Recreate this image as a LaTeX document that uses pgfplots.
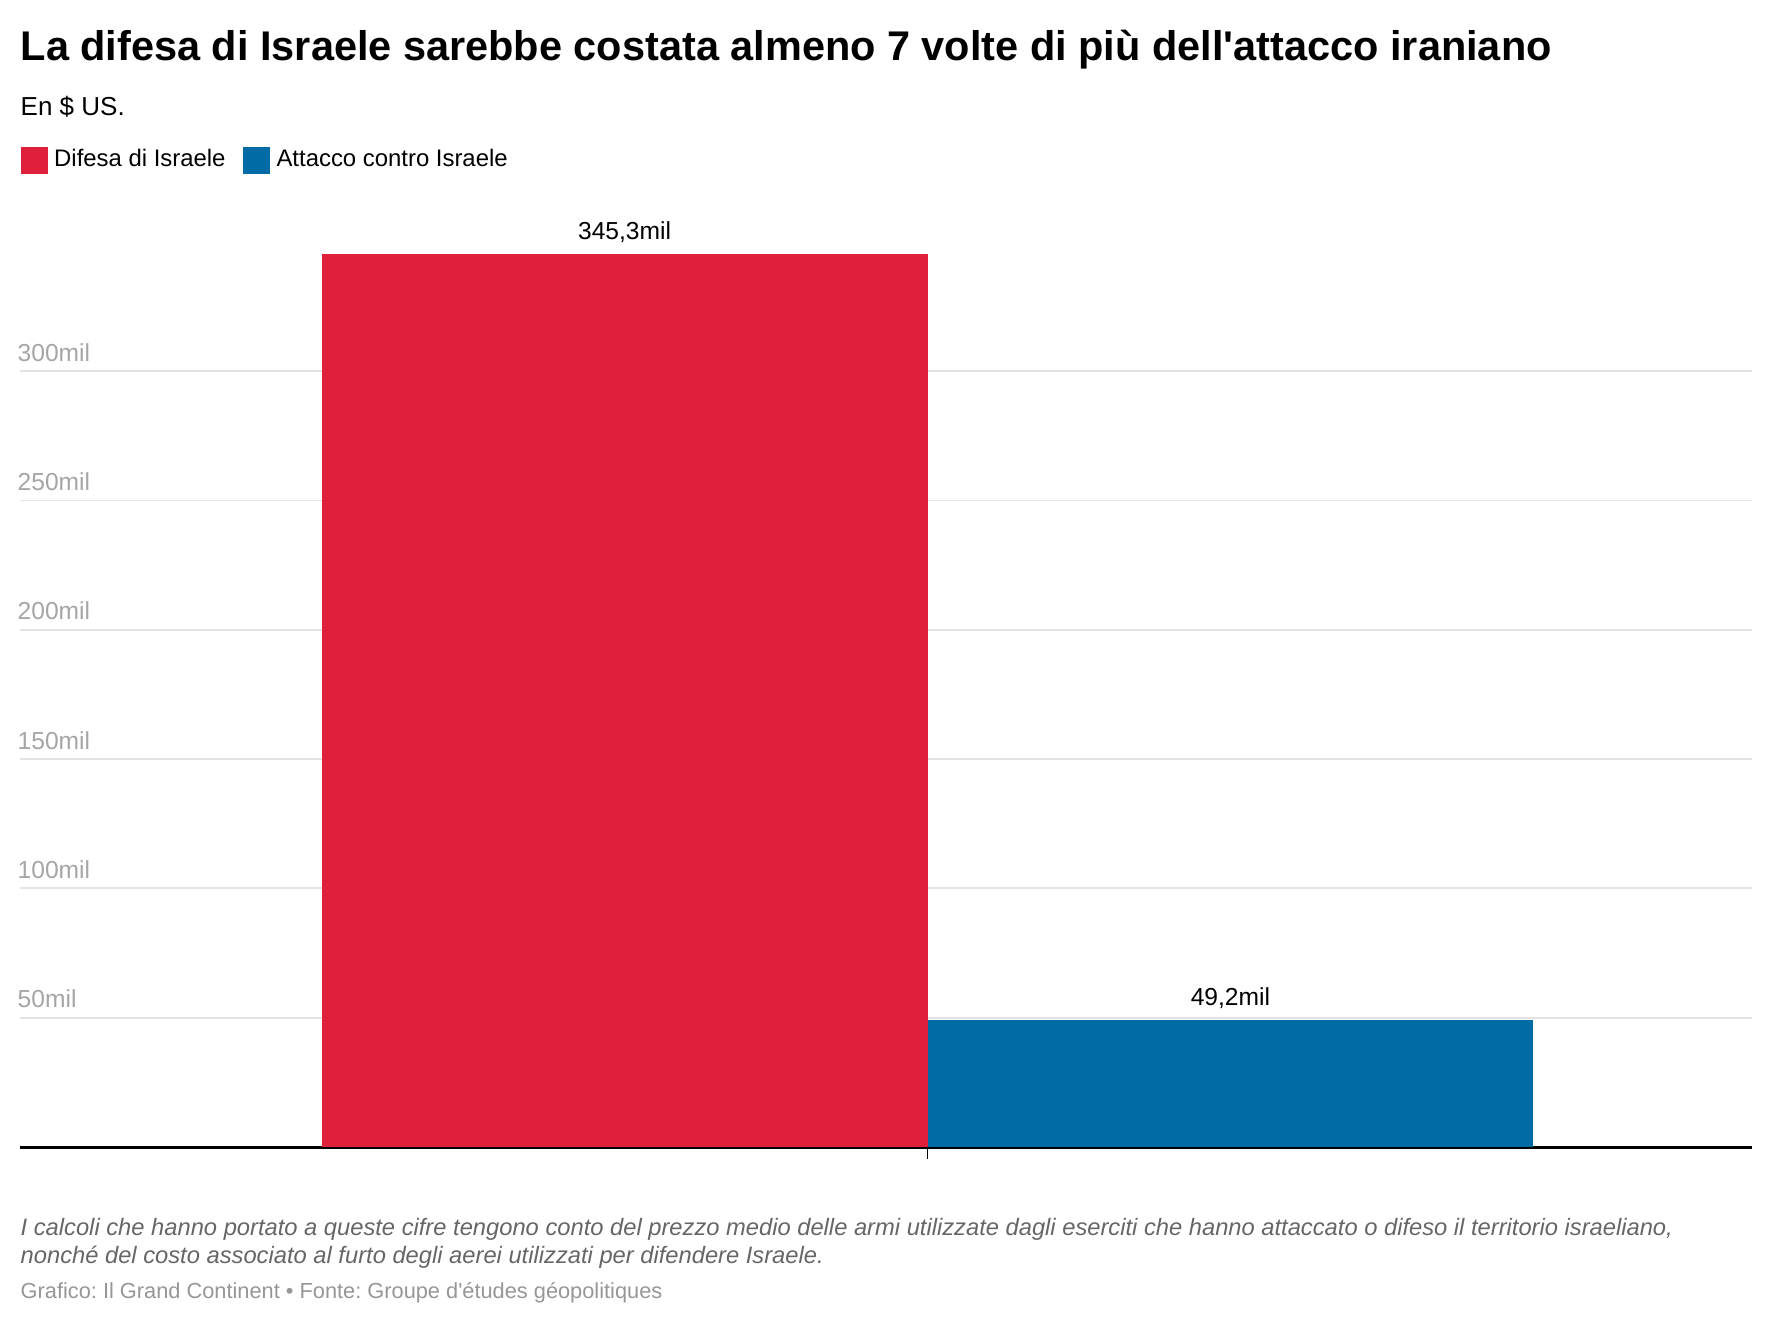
\documentclass[border=0pt]{standalone}
\usepackage{pgfplots}
\pgfplotsset{compat=1.18}
\usepackage{fontspec}
\setmainfont{Liberation Sans}[Ligatures=TeXOff]
\frenchspacing
\definecolor{difesa}{RGB}{222,32,60}
\definecolor{attacco}{RGB}{0,107,164}
\definecolor{gridgray}{RGB}{228,228,228}
\definecolor{ticklab}{RGB}{165,165,165}
\definecolor{notegray}{RGB}{102,102,102}
\definecolor{srcgray}{RGB}{150,150,150}

\begin{document}
\begin{tikzpicture}
  \path[use as bounding box] (0,0) rectangle (177.2mm,-132.8mm);
  % titles
  \node[anchor=base west, inner sep=0pt, font=\fontsize{11.8}{14}\selectfont\bfseries]
    at (2mm,-6.1mm) {La difesa di Israele sarebbe costata almeno 7 volte di più dell'attacco iraniano};
  \node[anchor=base west, inner sep=0pt, font=\fontsize{7.4}{9}\selectfont]
    at (2mm,-11.6mm) {En \$ US.};

  \begin{axis}[
    at={(2mm,-114.7mm)}, anchor=south west,
    scale only axis, width=173.2mm, height=93.1mm,
    xmin=-0.998, xmax=1.861, ymin=0, ymax=360,
    axis line style={draw=none},
    ymajorgrids,
    major grid style={gridgray, line width=0.55pt},
    ytick={50,100,150,200,250,300},
    yticklabels={50mil,100mil,150mil,200mil,250mil,300mil},
    ytick style={draw=none},
    yticklabel style={anchor=base west, inner sep=0pt, xshift=0.9mm, yshift=1mm,
      font=\fontsize{7}{8}\selectfont, text=ticklab},
    extra y ticks={0},
    extra y tick labels={},
    extra y tick style={grid=major, major grid style={black, line width=0.85pt}},
    xtick={0.5}, xticklabels={},
    xtick pos=lower, tick align=outside,
    x tick style={black, line width=0.4pt},
    major tick length=1.2mm,
    every axis plot/.append style={ybar, bar width=1, bar shift=0pt, draw=none},
    nodes near coords={\pgfmathprintnumber[assume math mode=true, use comma, fixed, fixed zerofill, precision=1]{\pgfplotspointmeta}mil},
    nodes near coords style={anchor=base, inner sep=0pt, yshift=1.45mm,
      font=\fontsize{7}{8}\selectfont, text=black},
    legend columns=2,
    legend style={at={(0,1.080)}, anchor=north west, draw=none, inner sep=0pt,
      font=\fontsize{6.8}{8}\selectfont, column sep=0pt,
      nodes={inner sep=0.65mm},
      /tikz/every even column/.append style={column sep=1.1mm}},
    legend cell align=left,
    legend image code/.code={\fill[#1] (0mm,-1.35mm) rectangle (2.7mm,1.35mm);},
  ]
    \addplot[fill=difesa] coordinates {(0,345.3)};
    \addplot[fill=attacco] coordinates {(1,49.2)};
    \legend{Difesa di Israele, Attacco contro Israele}
  \end{axis}

  % notes
  \node[anchor=base west, inner sep=0pt, font=\fontsize{6.75}{8}\selectfont\itshape, text=notegray]
    at (2mm,-123.5mm) {I calcoli che hanno portato a queste cifre tengono conto del prezzo medio delle armi utilizzate dagli eserciti che hanno attaccato o difeso il territorio israeliano,};
  \node[anchor=base west, inner sep=0pt, font=\fontsize{6.75}{8}\selectfont\itshape, text=notegray]
    at (2mm,-126.3mm) {nonché del costo associato al furto degli aerei utilizzati per difendere Israele.};
  \node[anchor=base west, inner sep=0pt, font=\fontsize{6.2}{8}\selectfont, text=srcgray]
    at (2mm,-129.8mm) {Grafico: Il Grand Continent • Fonte: Groupe d'études géopolitiques};
\end{tikzpicture}
\end{document}
